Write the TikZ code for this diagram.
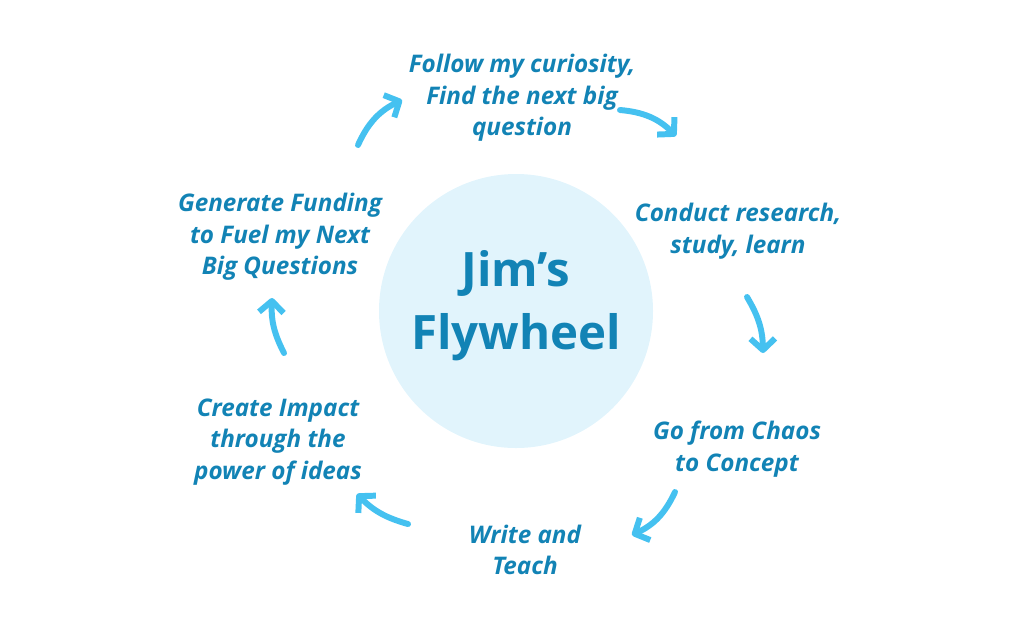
\documentclass[tikz,border=0pt]{standalone}
\usepackage{fontspec}
\setmainfont{Open Sans}
\usetikzlibrary{arrows.meta}
\definecolor{wheeltext}{HTML}{1283B5}
\definecolor{wheelfill}{HTML}{E1F4FC}
\definecolor{wheelarrow}{HTML}{45C1F0}
\begin{document}
\begin{tikzpicture}[x=0.02cm,y=-0.02cm,
  step label/.style={text=wheeltext, align=center, font=\fontsize{13.8}{18}\selectfont\bfseries\itshape},
  turn/.style={wheelarrow, line width=3.4pt, line cap=round, -{Straight Barb[length=6.5pt,width=14pt,line join=round]}}]

\useasboundingbox (0,0) rectangle (1024,627);

% Hub
\fill[wheelfill] (516,311) circle (137);
\node[text=wheeltext, align=center, font=\fontsize{27}{36}\selectfont\bfseries] (hub) at (516,306) {Jim’s\\Flywheel};

% Steps around the wheel
\node[step label] (follow) at (522,98) {Follow my curiosity,\\Find the next big\\question};
\node[step label] (research) at (738,231) {Conduct research,\\study, learn};
\node[step label] (chaos) at (737,449) {Go from Chaos\\to Concept};
\node[step label] (write) at (525,550) {Write and\\Teach};
\node[step label] (impact) at (278,442) {Create Impact\\through the\\power of ideas};
\node[step label] (funding) at (280,237) {Generate Funding\\to Fuel my Next\\Big Questions};

% Curved arrows between steps
\coordinate (a1) at (358,145); \coordinate (b1) at (402,100);
\coordinate (a2) at (620,110); \coordinate (b2) at (676,136);
\coordinate (a3) at (747,297); \coordinate (b3) at (763,353);
\coordinate (a4) at (675,492); \coordinate (b4) at (632,535);
\coordinate (a5) at (408,524); \coordinate (b5) at (357,494);
\coordinate (a6) at (284,353); \coordinate (b6) at (272,298);
\draw[turn] (a1) to[bend left=20] (b1);
\draw[turn] (a2) to[bend left=20] (b2);
\draw[turn] (a3) to[bend left=15] (b3);
\draw[turn] (a4) to[bend left=20] (b4);
\draw[turn] (a5) to[bend left=15] (b5);
\draw[turn] (a6) to[bend left=15] (b6);

\end{tikzpicture}
\end{document}
